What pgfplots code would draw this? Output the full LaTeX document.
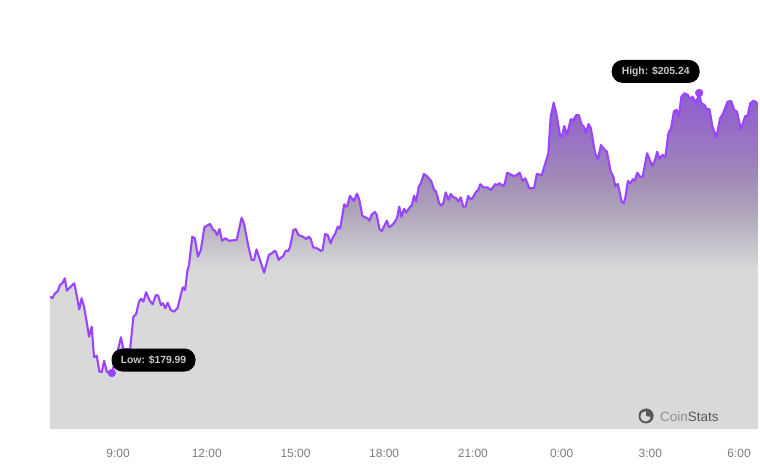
\documentclass[border=0pt]{standalone}
\usepackage{pgfplots}
\usepackage{pgfplotstable}
\usepackage{fontspec}
\setmainfont{Liberation Sans}
\pgfplotsset{compat=1.18}
\definecolor{linec}{HTML}{9945FF}
\definecolor{areag}{HTML}{D9D9D9}
\definecolor{areap}{HTML}{8F5FD0}
\definecolor{areaa}{HTML}{9468C8}
\definecolor{areab}{HTML}{A088B8}
\definecolor{areac}{HTML}{B0A8BA}
\definecolor{tickc}{HTML}{7C7C7C}
\definecolor{pilltxt}{HTML}{C8C8C8}
\definecolor{logod}{HTML}{585858}
\definecolor{logol}{HTML}{909090}
\tikzset{pill/.style={fill=black, text=pilltxt, rounded corners=11bp, font=\fontsize{10.4}{12}\bfseries\selectfont, minimum height=23bp, inner sep=0pt, anchor=center}}
\pgfdeclareverticalshading{chartfill}{100bp}{color(0bp)=(areag); color(48.7bp)=(areag); color(56.8bp)=(areac); color(62.8bp)=(areab); color(71bp)=(areaa); color(75bp)=(areap); color(100bp)=(areap)}
\pgfplotstableread{
h p
6.70 186.87
6.78 186.73
6.87 187.18
6.95 187.32
7.04 187.92
7.13 188.13
7.20 188.53
7.27 187.41
7.40 187.77
7.52 188.08
7.60 187.02
7.69 185.73
7.77 186.73
7.85 185.97
7.94 184.62
8.02 183.26
8.11 184.16
8.19 181.41
8.28 181.55
8.37 180.11
8.45 180.08
8.53 181.10
8.62 180.11
8.71 179.99
8.79 179.99
8.93 181.34
9.10 183.21
9.18 182.13
9.41 182.13
9.52 185.07
9.61 185.28
9.71 186.42
9.78 186.69
9.86 186.42
9.95 187.27
10.06 186.57
10.17 186.18
10.28 187.02
10.36 186.96
10.45 186.12
10.52 186.27
10.60 185.82
10.68 186.33
10.78 185.67
10.89 185.52
11.01 185.82
11.19 187.72
11.27 187.47
11.34 189.12
11.40 189.73
11.51 192.28
11.60 192.14
11.70 190.48
11.80 191.08
11.92 193.13
12.11 193.43
12.22 192.88
12.28 192.82
12.35 192.43
12.43 192.97
12.52 191.92
12.63 192.14
12.75 191.92
13.01 191.98
13.18 193.99
13.26 193.49
13.41 191.38
13.52 190.18
13.60 190.18
13.68 191.14
13.80 190.18
13.94 189.03
14.10 190.63
14.20 190.78
14.29 190.99
14.34 190.93
14.43 190.18
14.48 190.33
14.59 190.54
14.67 191.02
14.76 191.00
14.82 191.38
14.93 192.88
15.01 192.97
15.10 192.43
15.25 192.28
15.36 192.07
15.45 192.28
15.52 192.05
15.60 191.32
15.74 191.23
15.86 190.99
15.92 191.08
16.00 192.52
16.09 192.43
16.19 191.68
16.26 192.19
16.35 192.59
16.43 193.18
16.51 193.00
16.65 195.20
16.71 194.99
16.75 195.05
16.84 195.95
16.98 195.50
17.08 196.16
17.16 195.59
17.26 194.17
17.43 193.94
17.50 193.72
17.58 194.30
17.69 194.51
17.75 194.24
17.84 192.97
17.92 192.79
18.09 193.72
18.17 193.13
18.31 193.43
18.43 193.94
18.51 194.99
18.58 194.08
18.67 194.78
18.75 194.48
18.88 194.99
18.93 195.08
19.01 195.98
19.08 195.44
19.17 196.79
19.24 197.10
19.34 197.93
19.44 197.75
19.59 197.30
19.69 196.49
19.75 196.37
19.86 195.29
19.93 195.08
20.00 195.29
20.08 196.28
20.17 195.59
20.25 196.13
20.34 195.83
20.43 195.77
20.51 195.44
20.59 195.83
20.67 194.99
20.75 194.99
20.84 195.95
20.91 195.68
20.98 195.74
21.11 196.34
21.18 196.49
21.25 197.01
21.36 196.73
21.49 196.73
21.61 196.49
21.75 197.01
21.83 196.94
21.90 197.10
22.01 196.85
22.07 197.01
22.16 198.05
22.32 197.82
22.43 197.75
22.58 198.05
22.68 197.30
22.77 197.55
22.91 196.64
23.07 196.67
23.16 197.93
23.33 197.84
23.55 199.80
23.63 203.10
23.73 204.36
23.82 203.41
23.95 201.36
24.01 201.30
24.09 202.26
24.18 201.45
24.31 202.87
24.40 202.80
24.49 203.23
24.58 203.25
24.68 202.35
24.74 202.26
24.82 201.66
24.91 202.44
24.99 202.05
25.13 199.80
25.23 199.29
25.33 200.55
25.41 200.25
25.53 199.94
25.66 198.14
25.75 197.69
25.81 196.85
25.90 197.03
26.03 195.44
26.10 195.29
26.16 195.89
26.24 197.30
26.32 197.10
26.41 197.46
26.47 197.33
26.56 198.05
26.65 197.69
26.74 197.69
26.89 199.80
27.06 198.66
27.16 199.20
27.23 199.94
27.31 199.29
27.41 199.65
27.51 199.49
27.61 201.60
27.70 202.05
27.80 203.61
27.89 203.70
27.96 203.10
28.05 204.90
28.15 205.21
28.27 205.06
28.34 204.67
28.42 204.90
28.55 204.36
28.65 205.24
28.72 204.31
28.83 204.16
28.91 203.77
29.00 203.77
29.10 202.20
29.23 201.24
29.36 202.96
29.45 203.34
29.61 204.45
29.73 204.52
29.84 203.70
29.93 203.55
30.06 201.96
30.21 203.16
30.29 203.19
30.38 204.31
30.49 204.54
30.58 204.40
30.64 204.07
}\pricedata
\begin{document}
\begin{tikzpicture}
\path[use as bounding box] (-50bp,-43bp) rectangle (710bp,429bp);
\begin{axis}[
  at={(0,0)}, anchor=south west,
  scale only axis, width=708bp, height=429bp,
  xmin=6.70, xmax=30.64, ymin=174.94, ymax=213.62,
  axis line style={draw=none},
  major tick length=0pt,
  ytick=\empty,
  xtick={9,12,15,18,21,24,27,30},
  xticklabels={9:00,12:00,15:00,18:00,21:00,0:00,3:00,6:00},
  xticklabel style={font=\fontsize{12}{14}\selectfont, text=tickc, anchor=center, yshift=-24bp, inner sep=0pt},
  /pgf/number format/assume math mode=true,
]
\addplot[draw=none, shading=chartfill, mark=none] table[x=h,y=p] {\pricedata} \closedcycle;
\addplot[draw=linec, line width=2.1bp, line join=round, mark=none] table[x=h,y=p] {\pricedata};
\addplot[only marks, draw=linec, fill=linec, mark=*, mark size=3.9bp, mark options={solid, fill=linec, draw=linec, line width=0.4bp}] coordinates {(8.79,179.99) (28.65,205.24)};
\node[pill, minimum width=84bp] at (axis cs:10.20,181.16) {Low: \$179.99};
\node[pill, minimum width=88bp] at (axis cs:27.18,207.18) {High: \$205.24};
\end{axis}
% logo
\fill[logod] (596bp,13bp) circle (7.5bp);
\fill[areag] (595.6bp,12.6bp) circle (5.2bp);
\fill[logod] (596bp,13bp) -- (596bp,20.5bp) arc (90:-10:7.5bp) -- cycle;
\node[anchor=west, inner sep=0pt, font=\fontsize{13.5}{15}\selectfont] at (610bp,12bp) {\textcolor{logol}{Coin}\textcolor{logod}{Stats}};
\end{tikzpicture}
\end{document}
